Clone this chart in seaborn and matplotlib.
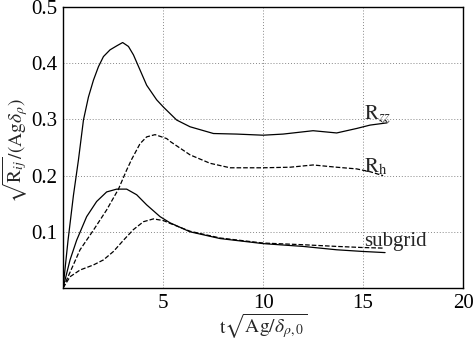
import matplotlib
matplotlib.use("Agg")
import matplotlib.pyplot as plt
import seaborn as sns
import pandas as pd

# Normalised time  t*sqrt(Ag/delta_rho,0)  and rms stresses for each curve
rzz_t = [0.0, 0.25, 0.52, 0.77, 1.02, 1.27, 1.52, 1.77, 2.02, 2.35, 2.68, 2.98, 3.27,
         3.52, 3.85, 4.18, 4.68, 5.02, 5.68, 6.35, 7.52, 8.68, 10.0, 11.0, 12.5, 13.68,
         14.68, 15.35, 16.2]
rzz_v = [0.0, 0.085, 0.165, 0.228, 0.299, 0.340, 0.370, 0.394, 0.412, 0.424, 0.431, 0.437, 0.430,
         0.415, 0.388, 0.361, 0.335, 0.322, 0.299, 0.287, 0.275, 0.274, 0.272, 0.274, 0.280, 0.276,
         0.284, 0.290, 0.294]

rh_t = [0.0, 0.85, 1.52, 2.18, 2.77, 3.18, 3.43, 3.85, 4.18, 4.6, 5.18, 5.35, 6.35,
        7.35, 8.35, 10.0, 11.35, 12.5, 13.68, 14.68, 15.35, 16.0]
rh_v = [0.0, 0.068, 0.103, 0.139, 0.176, 0.210, 0.229, 0.257, 0.269, 0.273, 0.266, 0.261, 0.237,
        0.222, 0.214, 0.214, 0.215, 0.219, 0.215, 0.212, 0.207, 0.200]

sub_solid_t = [0.0, 0.35, 0.68, 1.18, 1.68, 2.18, 2.68, 3.18, 3.68, 4.18, 4.85, 5.35, 6.35,
               7.85, 10.0, 12.0, 13.68, 15.0, 16.1]
sub_solid_v = [0.0, 0.050, 0.085, 0.127, 0.154, 0.171, 0.176, 0.176, 0.166, 0.148, 0.127, 0.116, 0.100,
               0.088, 0.079, 0.074, 0.068, 0.065, 0.063]

sub_dash_t = [0.0, 0.35, 0.85, 1.52, 2.02, 2.52, 3.02, 3.52, 4.02, 4.52, 5.02, 5.35, 6.35,
              7.85, 10.0, 12.0, 13.68, 15.0, 16.0]
sub_dash_v = [0.0, 0.020, 0.032, 0.041, 0.050, 0.065, 0.085, 0.104, 0.118, 0.123, 0.120, 0.115, 0.101,
              0.089, 0.080, 0.077, 0.074, 0.072, 0.071]

x_ticks = [5, 10, 15, 20]
y_ticks = [0.1, 0.2, 0.3, 0.4, 0.5]

sns.set_theme(style="white")
plt.rcParams["font.family"] = "serif"
plt.rcParams["font.serif"] = ["Liberation Serif", "DejaVu Serif"]
plt.rcParams["mathtext.fontset"] = "stix"

fig = plt.figure(figsize=(4.74, 3.40), dpi=100)
ax = fig.add_axes([0.133, 0.153, 0.844, 0.826])

curves = [
    (rzz_t, rzz_v, "-"),
    (rh_t, rh_v, "--"),
    (sub_solid_t, sub_solid_v, "-"),
    (sub_dash_t, sub_dash_v, "--"),
]
for t, v, ls in curves:
    df = pd.DataFrame({"t": t, "v": v})
    sns.lineplot(data=df, x="t", y="v", ax=ax, color="black", linewidth=0.9,
                 linestyle=ls, sort=False, estimator=None)

ax.set_xlim(0, 20)
ax.set_ylim(0, 0.5)
ax.set_xticks(x_ticks)
ax.set_yticks(y_ticks)
ax.set_xticklabels([str(v) for v in x_ticks])
ax.set_yticklabels([f"{v:.1f}" for v in y_ticks])
ax.tick_params(length=0, labelsize=15, pad=4, colors="black")

ax.grid(True, linestyle=(0, (1, 2)), color="#888888", linewidth=0.7)
for s in ax.spines.values():
    s.set_color("black")
    s.set_linewidth(1.0)

ax.set_xlabel(r"$\mathrm{t}\sqrt{\mathrm{Ag}/\delta_{\rho,0}}$", fontsize=14)
ax.set_ylabel(r"$\sqrt{\mathrm{R}_{ij}}/(\mathrm{Ag}\delta_{\rho})$", fontsize=14)
ax.xaxis.set_label_coords(0.5, -0.085)
ax.yaxis.set_label_coords(-0.08, 0.49)

ax.text(15.05, 0.299, r"$\mathrm{R}_{zz}$", fontsize=15, ha="left", va="baseline")
ax.text(15.05, 0.206, r"$\mathrm{R}_{\mathrm{h}}$", fontsize=15, ha="left", va="baseline")
ax.text(15.05, 0.074, "subgrid", fontsize=15, ha="left", va="baseline")

fig.savefig("out.png", dpi=100)
